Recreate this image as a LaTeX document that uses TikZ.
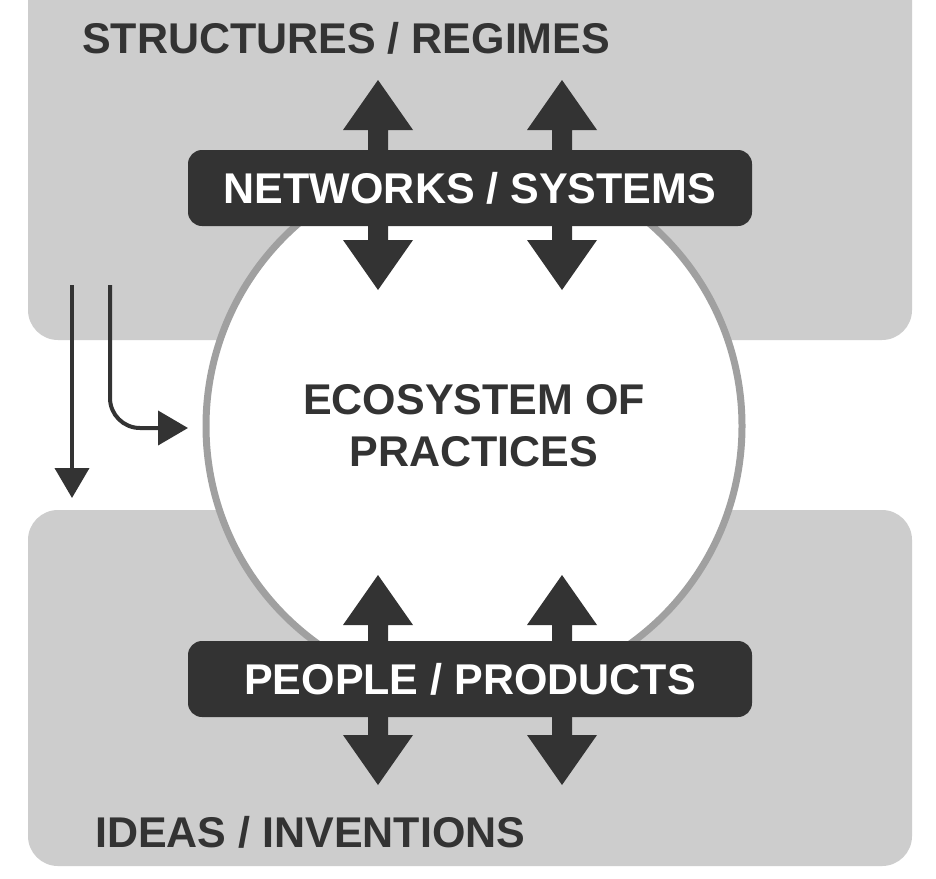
\documentclass[tikz,border=0pt]{standalone}
\usepackage{fontspec}
\setmainfont{Liberation Sans}
\usetikzlibrary{arrows.meta}
\definecolor{band}{HTML}{CDCDCD}
\definecolor{dark}{HTML}{333333}
\definecolor{ring}{HTML}{A0A0A0}
\tikzset{
  lbl/.style={font=\bfseries\fontsize{43}{46}\selectfont},
  darkbox/.style={fill=dark,rounded corners=14pt,minimum width=564pt,minimum height=76pt,text=white,lbl,inner sep=0pt},
  curv/.style={draw=dark,line width=4pt,-{Triangle[length=30pt,width=34pt]}}
}
\newcommand{\dblarrow}[3]{% x, top, bottom
  \fill[dark] (#1,#2) -- ++(35,50) -- ++(-25,0) -- (#1+10,#3-50) -- ++(25,0) -- (#1,#3) -- (#1-35,#3-50) -- ++(25,0) -- (#1-10,#2+50) -- ++(-25,0) -- cycle;}
\begin{document}
\begin{tikzpicture}[x=1pt,y=-1pt]
\useasboundingbox (0,0) rectangle (936,878);
\fill[white] (0,0) rectangle (936,878);
\fill[band,rounded corners=30pt] (28,-30) rectangle (912,340);
\fill[band,rounded corners=30pt] (28,510) rectangle (912,866);
\node[lbl,text=dark,anchor=west,inner sep=0pt] (sr) at (82,38) {STRUCTURES / REGIMES};
\node[lbl,text=dark,anchor=west,inner sep=0pt] (ii) at (95,832) {IDEAS / INVENTIONS};
\node[circle,draw=ring,line width=7pt,fill=white,minimum size=536pt,inner sep=0pt,lbl,text=dark,align=center] (eco) at (474,426) {ECOSYSTEM OF\\[6pt]PRACTICES};
\dblarrow{378}{80}{290}
\dblarrow{562}{80}{290}
\dblarrow{378}{575}{785}
\dblarrow{562}{575}{785}
\node[darkbox] (net) at (470,188) {NETWORKS / SYSTEMS};
\node[darkbox] (ppl) at (470,679) {PEOPLE / PRODUCTS};
\coordinate (a1) at (72,285);
\coordinate (a2) at (72,498);
\coordinate (b1) at (110,285);
\coordinate (b2) at (188,428);
\draw[curv] (a1) -- (a2);
\draw[curv,rounded corners=30pt] (b1) |- (b2);
\end{tikzpicture}
\end{document}
